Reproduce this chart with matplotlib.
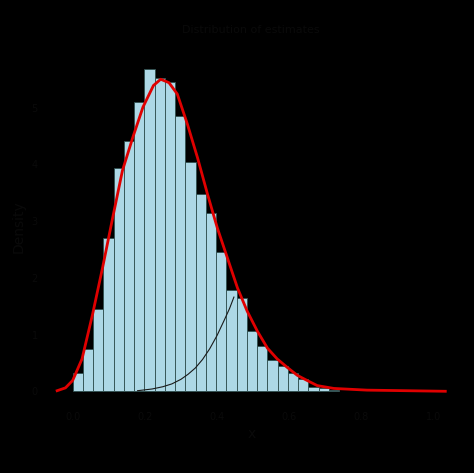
import numpy as np
import matplotlib
matplotlib.use("Agg")
import matplotlib.pyplot as plt

bin_start = 0.0
bin_width = 0.0284
heights = [0.32,0.75,1.45,2.71,3.94,4.41,5.10,5.68,5.53,5.45,4.85,4.05,3.47,3.14,
           2.45,1.79,1.64,1.06,0.79,0.56,0.45,0.32,0.21,0.07,0.06,0.02]
red_x = [-0.043,-0.02,0.0,0.026,0.055,0.083,0.111,0.138,0.167,0.195,0.224,0.244,0.267,0.290,
         0.318,0.346,0.374,0.401,0.429,0.457,0.484,0.512,0.540,0.567,0.595,0.623,0.650,
         0.678,0.724,0.816,1.033]
red_y = [0.01,0.06,0.19,0.57,1.35,2.18,3.06,3.89,4.48,5.01,5.39,5.50,5.44,5.24,4.71,4.12,
         3.47,2.88,2.35,1.82,1.41,1.06,0.76,0.57,0.42,0.28,0.19,0.10,0.05,0.02,0.0]
blk_x = [0.180,0.220,0.250,0.275,0.300,0.320,0.340,0.360,0.380,0.400,0.420,0.435,0.447]
blk_y = [0.01,0.04,0.08,0.13,0.21,0.30,0.41,0.56,0.75,0.98,1.25,1.46,1.66]

fig = plt.figure(figsize=(4.74,4.73), dpi=100, facecolor="black")
ax = fig.add_axes([0.10,0.15,0.86,0.74], facecolor="black")
edges = bin_start + bin_width*np.arange(len(heights))
ax.bar(edges, heights, width=bin_width, align="edge", color="#add8e6", edgecolor="#2f4f4f", linewidth=0.6)
ax.plot(red_x, red_y, color="#e00000", lw=2)
ax.plot(blk_x, blk_y, color="#1a1a1a", lw=0.8)
ax.set_xlim(-0.07,1.06)
ax.set_ylim(-0.19,5.98)
ax.set_xticks([0,0.2,0.4,0.6,0.8,1.0])
ax.set_yticks(range(6))
for s in ax.spines.values():
    s.set_visible(False)
ax.tick_params(colors="black", labelcolor="#0a0a0a", labelsize=7)
ax.set_title("Distribution of estimates", color="#0a0a0a", fontsize=8, pad=14)
ax.set_xlabel("x", color="#0a0a0a")
ax.set_ylabel("Density", color="#0a0a0a")
fig.savefig("out.png", dpi=100, facecolor="black")
